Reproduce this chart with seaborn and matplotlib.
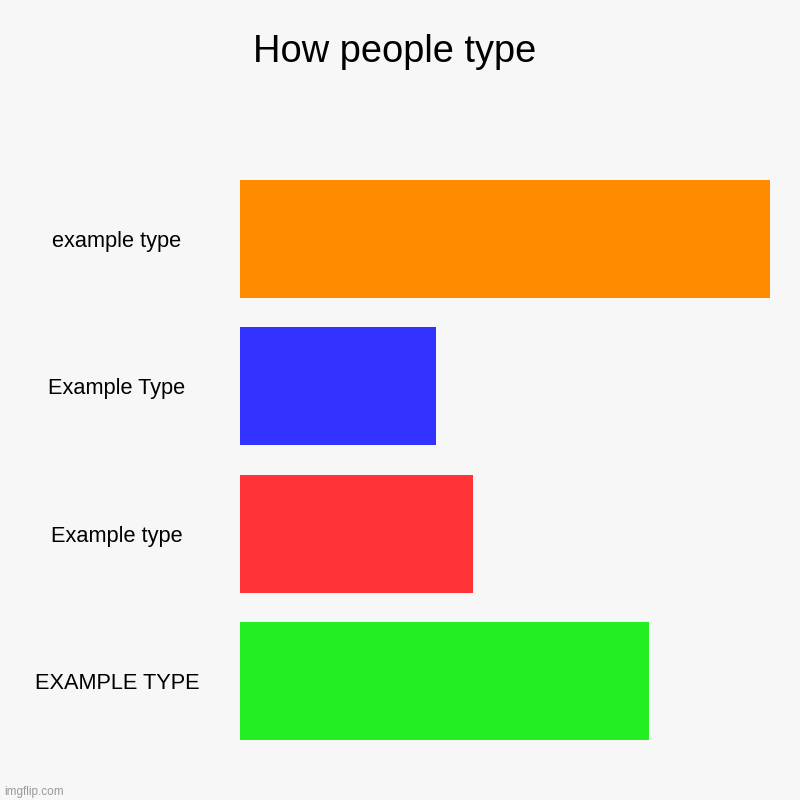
import matplotlib
matplotlib.use("Agg")
import matplotlib.pyplot as plt
import seaborn as sns
import pandas as pd

categories = ["example type", "Example Type", "Example type", "EXAMPLE TYPE"]
values = [100, 37, 44, 77.2]
colors = ["#ff8c00", "#3333ff", "#ff3338", "#22ee22"]
title = "How people type"

sns.set_theme(style="white")
plt.rcParams["font.family"] = ["Liberation Sans", "DejaVu Sans"]

bg = "#f7f7f7"
fig = plt.figure(figsize=(8, 8), dpi=100, facecolor=bg)
ax = fig.add_axes([240 / 800, 1 - 740 / 800, 530 / 800, 560 / 800])
ax.set_facecolor(bg)

df = pd.DataFrame({"category": categories, "value": values})
sns.barplot(data=df, x="value", y="category", hue="category",
            palette=dict(zip(categories, colors)), orient="h",
            saturation=1, width=0.8, linewidth=0, legend=False, ax=ax)

ax.set_xlim(0, max(values))
ax.set_ylim(len(categories) - 0.6, -0.4)
for s in ax.spines.values():
    s.set_visible(False)
ax.set_xticks([])
ax.set_xlabel("")
ax.set_ylabel("")
ax.tick_params(axis="y", length=0, pad=88.6, labelsize=15.7)
for lab in ax.get_yticklabels():
    lab.set_ha("center")
    lab.set_color("black")

fig.text(394.5 / 800, 1 - 62 / 800, title, ha="center", va="baseline",
         fontsize=27.4, color="black")
fig.text(4 / 800, 1 - 795 / 800, "imgflip.com", ha="left", va="baseline",
         fontsize=8.5, color="#9a9a9a")

fig.savefig("out.png", dpi=100, facecolor=bg)
